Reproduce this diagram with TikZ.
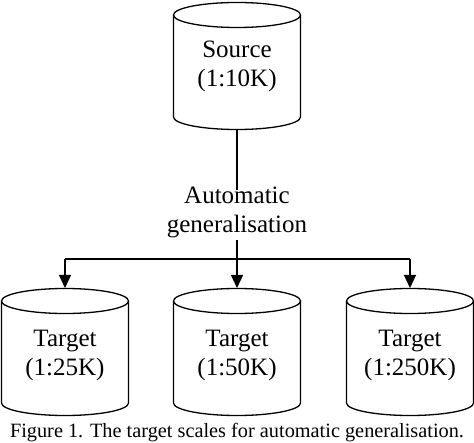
\documentclass[tikz,border=0pt]{standalone}
\usepackage{fontspec}
\setmainfont{Liberation Serif}
\usetikzlibrary{arrows.meta}
\tikzset{
  cylline/.style={line width=1.3pt},
  conn/.style={line width=1.3pt},
  arr/.style={conn,-{Triangle[length=13pt,width=12pt]}},
  lbl/.style={align=center,inner sep=2pt,font=\fontsize{25}{29}\selectfont},
}
\newcommand\dbcyl[3]{%
  \draw[cylline] ({#1-63.5},#2) -- ({#1-63.5},#3)
    arc[start angle=180,end angle=360,x radius=63.5,y radius=12.5] -- ({#1+63.5},#2);
  \draw[cylline] (#1,#2) ellipse[x radius=63.5,y radius=12.5];}
\begin{document}
\begin{tikzpicture}[x=1pt,y=1pt]
\useasboundingbox (0,0) rectangle (474,442);
% source
\dbcyl{237}{427}{325}
\node[lbl] (src) at (237,376) {Source\\(1:10K)};
\coordinate (srcbot) at (237,312.5);
% targets
\dbcyl{65}{141}{39}
\dbcyl{237}{141}{39}
\dbcyl{410}{141}{39}
\node[lbl] (t1) at (65,87) {Target\\(1:25K)};
\node[lbl] (t2) at (237,87) {Target\\(1:50K)};
\node[lbl] (t3) at (410,87) {Target\\(1:250K)};
\coordinate (t1top) at (65,154);
\coordinate (t2top) at (237,154);
\coordinate (t3top) at (410,154);
% process
\node[lbl,inner sep=0pt] (auto) at (237,230) {Automatic\\generalisation};
\coordinate (split) at (237,183);
\draw[conn] (srcbot) -- ([yshift=-4pt]auto.north);
\draw[conn] ([yshift=-2pt]auto.south) -- (split);
\draw[conn] (t1top |- split) -- (t3top |- split);
\draw[arr] (t1top |- split) -- (t1top);
\draw[arr] (split) -- (t2top);
\draw[arr] (t3top |- split) -- (t3top);
% caption
\node[font=\fontsize{20.3}{22}\selectfont,anchor=base] (cap) at (237,5) {Figure 1. The target scales for automatic generalisation.};
\end{tikzpicture}
\end{document}
